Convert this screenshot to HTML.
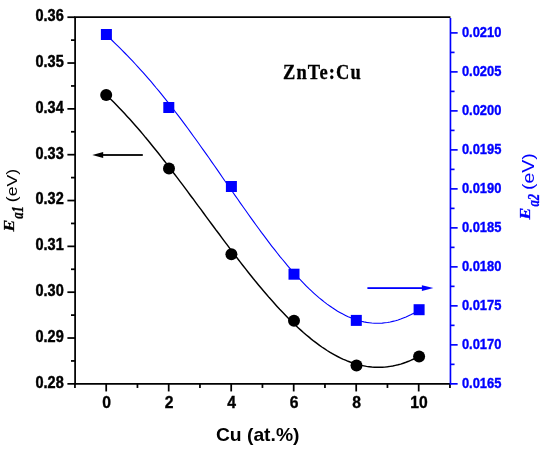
<!DOCTYPE html>
<html lang="en"><head><meta charset="utf-8"><title>ZnTe:Cu activation energy</title>
<style>html,body{margin:0;padding:0;background:#fff;overflow:hidden}svg{display:block}.s{font-family:"Liberation Sans",Arial,sans-serif}.t{font-family:"Liberation Serif","Times New Roman",serif}</style></head><body>
<svg width="550" height="451" viewBox="0 0 550 451">
<rect width="550" height="451" fill="#fff"/>
<path d="M106.4,35.1 L109.0,37.5 L111.7,40.0 L114.3,42.6 L116.9,45.1 L119.5,47.7 L122.2,50.3 L124.8,53.0 L127.4,55.7 L130.0,58.4 L132.7,61.2 L135.3,64.0 L137.9,66.9 L140.6,69.8 L143.2,72.7 L145.8,75.7 L148.4,78.7 L151.1,81.7 L153.7,84.8 L156.3,88.0 L159.0,91.1 L161.6,94.4 L164.2,97.6 L166.8,100.9 L169.5,104.2 L172.1,107.6 L174.7,111.0 L177.3,114.4 L180.0,117.9 L182.6,121.4 L185.2,124.9 L187.9,128.5 L190.5,132.1 L193.1,135.7 L195.7,139.3 L198.4,143.0 L201.0,146.7 L203.6,150.4 L206.3,154.1 L208.9,157.8 L211.5,161.6 L214.1,165.3 L216.8,169.1 L219.4,172.9 L222.0,176.7 L224.6,180.5 L227.3,184.2 L229.9,188.0 L232.5,191.8 L235.2,195.6 L237.8,199.3 L240.4,203.1 L243.0,206.8 L245.7,210.5 L248.3,214.2 L250.9,217.9 L253.6,221.6 L256.2,225.2 L258.8,228.8 L261.4,232.4 L264.1,235.9 L266.7,239.4 L269.3,242.9 L271.9,246.3 L274.6,249.7 L277.2,253.0 L279.8,256.3 L282.5,259.5 L285.1,262.7 L287.7,265.8 L290.3,268.8 L293.0,271.8 L295.6,274.8 L298.2,277.6 L300.9,280.4 L303.5,283.1 L306.1,285.8 L308.7,288.4 L311.4,290.9 L314.0,293.3 L316.6,295.6 L319.2,297.9 L321.9,300.0 L324.5,302.1 L327.1,304.1 L329.8,306.0 L332.4,307.8 L335.0,309.5 L337.6,311.2 L340.3,312.7 L342.9,314.1 L345.5,315.4 L348.2,316.7 L350.8,317.8 L353.4,318.8 L356.0,319.7 L358.7,320.5 L361.3,321.3 L363.9,321.9 L366.5,322.4 L369.2,322.7 L371.8,323.0 L374.4,323.2 L377.1,323.3 L379.7,323.2 L382.3,323.1 L384.9,322.8 L387.6,322.5 L390.2,322.0 L392.8,321.4 L395.5,320.8 L398.1,320.0 L400.7,319.1 L403.3,318.1 L406.0,317.0 L408.6,315.8 L411.2,314.6 L413.8,313.2 L416.5,311.7 L419.1,310.2" fill="none" stroke="#0000ff" stroke-width="1.1"/>
<path d="M106.2,94.8 L108.8,97.3 L111.5,99.9 L114.1,102.5 L116.7,105.2 L119.3,107.9 L122.0,110.7 L124.6,113.5 L127.2,116.4 L129.9,119.3 L132.5,122.2 L135.1,125.2 L137.8,128.2 L140.4,131.3 L143.0,134.4 L145.6,137.6 L148.3,140.7 L150.9,144.0 L153.5,147.2 L156.2,150.5 L158.8,153.8 L161.4,157.1 L164.0,160.5 L166.7,163.9 L169.3,167.3 L171.9,170.7 L174.6,174.2 L177.2,177.6 L179.8,181.1 L182.5,184.6 L185.1,188.1 L187.7,191.7 L190.3,195.2 L193.0,198.7 L195.6,202.3 L198.2,205.9 L200.9,209.4 L203.5,213.0 L206.1,216.6 L208.7,220.1 L211.4,223.7 L214.0,227.2 L216.6,230.8 L219.3,234.3 L221.9,237.9 L224.5,241.4 L227.2,244.9 L229.8,248.4 L232.4,251.8 L235.0,255.3 L237.7,258.7 L240.3,262.1 L242.9,265.5 L245.6,268.9 L248.2,272.2 L250.8,275.5 L253.4,278.8 L256.1,282.0 L258.7,285.2 L261.3,288.3 L264.0,291.5 L266.6,294.5 L269.2,297.6 L271.9,300.6 L274.5,303.5 L277.1,306.4 L279.7,309.3 L282.4,312.1 L285.0,314.8 L287.6,317.5 L290.3,320.2 L292.9,322.7 L295.5,325.3 L298.1,327.7 L300.8,330.1 L303.4,332.5 L306.0,334.7 L308.7,336.9 L311.3,339.1 L313.9,341.2 L316.6,343.2 L319.2,345.1 L321.8,347.0 L324.4,348.7 L327.1,350.5 L329.7,352.1 L332.3,353.6 L335.0,355.1 L337.6,356.5 L340.2,357.8 L342.8,359.1 L345.5,360.2 L348.1,361.3 L350.7,362.3 L353.4,363.2 L356.0,364.0 L358.6,364.7 L361.3,365.4 L363.9,365.9 L366.5,366.4 L369.1,366.7 L371.8,367.0 L374.4,367.2 L377.0,367.3 L379.7,367.3 L382.3,367.2 L384.9,367.1 L387.5,366.8 L390.2,366.4 L392.8,366.0 L395.4,365.4 L398.1,364.8 L400.7,364.1 L403.3,363.2 L406.0,362.3 L408.6,361.3 L411.2,360.2 L413.8,359.0 L416.5,357.7 L419.1,356.3" fill="none" stroke="#000" stroke-width="1.45"/>
<rect x="100.9" y="29.0" width="11" height="11" fill="#0000ff"/>
<rect x="163.3" y="102.0" width="11" height="11" fill="#0000ff"/>
<rect x="225.9" y="181.0" width="11" height="11" fill="#0000ff"/>
<rect x="288.5" y="268.7" width="11" height="11" fill="#0000ff"/>
<rect x="350.8" y="314.9" width="11" height="11" fill="#0000ff"/>
<rect x="413.6" y="304.2" width="11" height="11" fill="#0000ff"/>
<circle cx="106.2" cy="95.0" r="6" fill="#000"/>
<circle cx="169.0" cy="168.6" r="6" fill="#000"/>
<circle cx="231.4" cy="254.2" r="6" fill="#000"/>
<circle cx="294.0" cy="320.7" r="6" fill="#000"/>
<circle cx="356.5" cy="365.5" r="6" fill="#000"/>
<circle cx="419.1" cy="356.5" r="6" fill="#000"/>
<g stroke="#000" stroke-width="1.75" fill="none">
<path d="M75.1,384.725 V17.2 H450.45"/>
<path d="M74.225,383.85 H450.45"/>
<path d="M75.1,17.20 h-7.7"/>
<path d="M75.1,40.12 h-4.1"/>
<path d="M75.1,63.03 h-7.7"/>
<path d="M75.1,85.95 h-4.1"/>
<path d="M75.1,108.86 h-7.7"/>
<path d="M75.1,131.78 h-4.1"/>
<path d="M75.1,154.69 h-7.7"/>
<path d="M75.1,177.61 h-4.1"/>
<path d="M75.1,200.53 h-7.7"/>
<path d="M75.1,223.44 h-4.1"/>
<path d="M75.1,246.36 h-7.7"/>
<path d="M75.1,269.27 h-4.1"/>
<path d="M75.1,292.19 h-7.7"/>
<path d="M75.1,315.10 h-4.1"/>
<path d="M75.1,338.02 h-7.7"/>
<path d="M75.1,360.93 h-4.1"/>
<path d="M75.1,383.85 h-7.7"/>
<path d="M74.95,383.85 v4.1"/>
<path d="M106.20,383.85 v7.6"/>
<path d="M137.45,383.85 v4.1"/>
<path d="M168.70,383.85 v7.6"/>
<path d="M199.95,383.85 v4.1"/>
<path d="M231.20,383.85 v7.6"/>
<path d="M262.45,383.85 v4.1"/>
<path d="M293.70,383.85 v7.6"/>
<path d="M324.95,383.85 v4.1"/>
<path d="M356.20,383.85 v7.6"/>
<path d="M387.45,383.85 v4.1"/>
<path d="M418.70,383.85 v7.6"/>
<path d="M449.95,383.85 v4.1"/>
</g>
<g stroke="#0000ff" stroke-width="1.65" fill="none">
<path d="M450.45,18.075 V384.725"/>
<path d="M450.45,383.85 h7.2"/>
<path d="M450.45,364.35 h4.1"/>
<path d="M450.45,344.86 h7.2"/>
<path d="M450.45,325.36 h4.1"/>
<path d="M450.45,305.86 h7.2"/>
<path d="M450.45,286.36 h4.1"/>
<path d="M450.45,266.87 h7.2"/>
<path d="M450.45,247.37 h4.1"/>
<path d="M450.45,227.87 h7.2"/>
<path d="M450.45,208.38 h4.1"/>
<path d="M450.45,188.88 h7.2"/>
<path d="M450.45,169.38 h4.1"/>
<path d="M450.45,149.88 h7.2"/>
<path d="M450.45,130.39 h4.1"/>
<path d="M450.45,110.89 h7.2"/>
<path d="M450.45,91.39 h4.1"/>
<path d="M450.45,71.89 h7.2"/>
<path d="M450.45,52.40 h4.1"/>
<path d="M450.45,32.90 h7.2"/>
</g>
<g class="s" font-weight="700" font-size="16" fill="#000" stroke="#000" stroke-width="0.45" text-anchor="end">
<text x="63.7" y="21.1" textLength="28.2" lengthAdjust="spacingAndGlyphs">0.36</text>
<text x="63.7" y="66.9" textLength="28.2" lengthAdjust="spacingAndGlyphs">0.35</text>
<text x="63.7" y="112.8" textLength="28.2" lengthAdjust="spacingAndGlyphs">0.34</text>
<text x="63.7" y="158.6" textLength="28.2" lengthAdjust="spacingAndGlyphs">0.33</text>
<text x="63.7" y="204.4" textLength="28.2" lengthAdjust="spacingAndGlyphs">0.32</text>
<text x="63.7" y="250.3" textLength="28.2" lengthAdjust="spacingAndGlyphs">0.31</text>
<text x="63.7" y="296.1" textLength="28.2" lengthAdjust="spacingAndGlyphs">0.30</text>
<text x="63.7" y="341.9" textLength="28.2" lengthAdjust="spacingAndGlyphs">0.29</text>
<text x="63.7" y="387.8" textLength="28.2" lengthAdjust="spacingAndGlyphs">0.28</text>
</g>
<g class="s" font-weight="700" font-size="15.7" fill="#000" stroke="#000" stroke-width="0.35" text-anchor="middle">
<text x="106.6" y="407.7">0</text>
<text x="169.1" y="407.7">2</text>
<text x="231.6" y="407.7">4</text>
<text x="294.1" y="407.7">6</text>
<text x="356.6" y="407.7">8</text>
<text x="419.1" y="407.7">10</text>
</g>
<g class="s" font-weight="700" font-size="14.9" fill="#0000ff" stroke="#0000ff" stroke-width="0.4">
<text x="461.9" y="387.5" textLength="39.5" lengthAdjust="spacingAndGlyphs">0.0165</text>
<text x="461.9" y="348.5" textLength="39.5" lengthAdjust="spacingAndGlyphs">0.0170</text>
<text x="461.9" y="309.5" textLength="39.5" lengthAdjust="spacingAndGlyphs">0.0175</text>
<text x="461.9" y="270.5" textLength="39.5" lengthAdjust="spacingAndGlyphs">0.0180</text>
<text x="461.9" y="231.5" textLength="39.5" lengthAdjust="spacingAndGlyphs">0.0185</text>
<text x="461.9" y="192.5" textLength="39.5" lengthAdjust="spacingAndGlyphs">0.0190</text>
<text x="461.9" y="153.5" textLength="39.5" lengthAdjust="spacingAndGlyphs">0.0195</text>
<text x="461.9" y="114.5" textLength="39.5" lengthAdjust="spacingAndGlyphs">0.0200</text>
<text x="461.9" y="75.5" textLength="39.5" lengthAdjust="spacingAndGlyphs">0.0205</text>
<text x="461.9" y="36.5" textLength="39.5" lengthAdjust="spacingAndGlyphs">0.0210</text>
</g>
<text class="s" font-weight="700" font-size="19" x="257.7" y="440.5" text-anchor="middle" textLength="83.6" lengthAdjust="spacingAndGlyphs">Cu (at.%)</text>
<text class="t" font-weight="700" font-size="20.3" transform="translate(283.0,78.9) scale(0.91,1)" letter-spacing="1.2" stroke="#000" stroke-width="0.3">ZnTe:Cu</text>
<g fill="#000"><text class="t" font-weight="700" font-style="italic" font-size="14.6" stroke="#000" stroke-width="0.3" transform="translate(14.0,231.6) rotate(-90)" textLength="11.9" lengthAdjust="spacingAndGlyphs">E</text><text class="t" font-weight="700" font-style="italic" font-size="15.8" stroke="#000" stroke-width="0.3" transform="translate(22.6,218.7) rotate(-90)" textLength="12.6" lengthAdjust="spacingAndGlyphs">a1</text><text class="s" font-size="15.4" transform="translate(17.0,202.2) rotate(-90)" textLength="33.4" lengthAdjust="spacingAndGlyphs">(eV)</text></g>
<g fill="#0000ff"><text class="t" font-weight="700" font-style="italic" font-size="14.6" stroke="#0000ff" stroke-width="0.3" transform="translate(530.1,219.5) rotate(-90)" textLength="11.9" lengthAdjust="spacingAndGlyphs">E</text><text class="t" font-weight="700" font-style="italic" font-size="15.8" stroke="#0000ff" stroke-width="0.3" transform="translate(538.7,206.6) rotate(-90)" textLength="12.6" lengthAdjust="spacingAndGlyphs">a2</text><text class="s" font-size="16.6" transform="translate(533.7,190.1) rotate(-90)" textLength="36.8" lengthAdjust="spacingAndGlyphs">(eV)</text></g>
<g fill="#000" stroke="none"><rect x="101" y="154.1" width="41.8" height="1.8"/><path d="M92.3,155 L103.2,152 L103.2,158 Z"/></g>
<g fill="#0000ff" stroke="none"><rect x="367.4" y="287.2" width="56" height="1.8"/><path d="M433.4,288.1 L421.9,285.2 L421.9,291 Z"/></g>
</svg></body></html>
